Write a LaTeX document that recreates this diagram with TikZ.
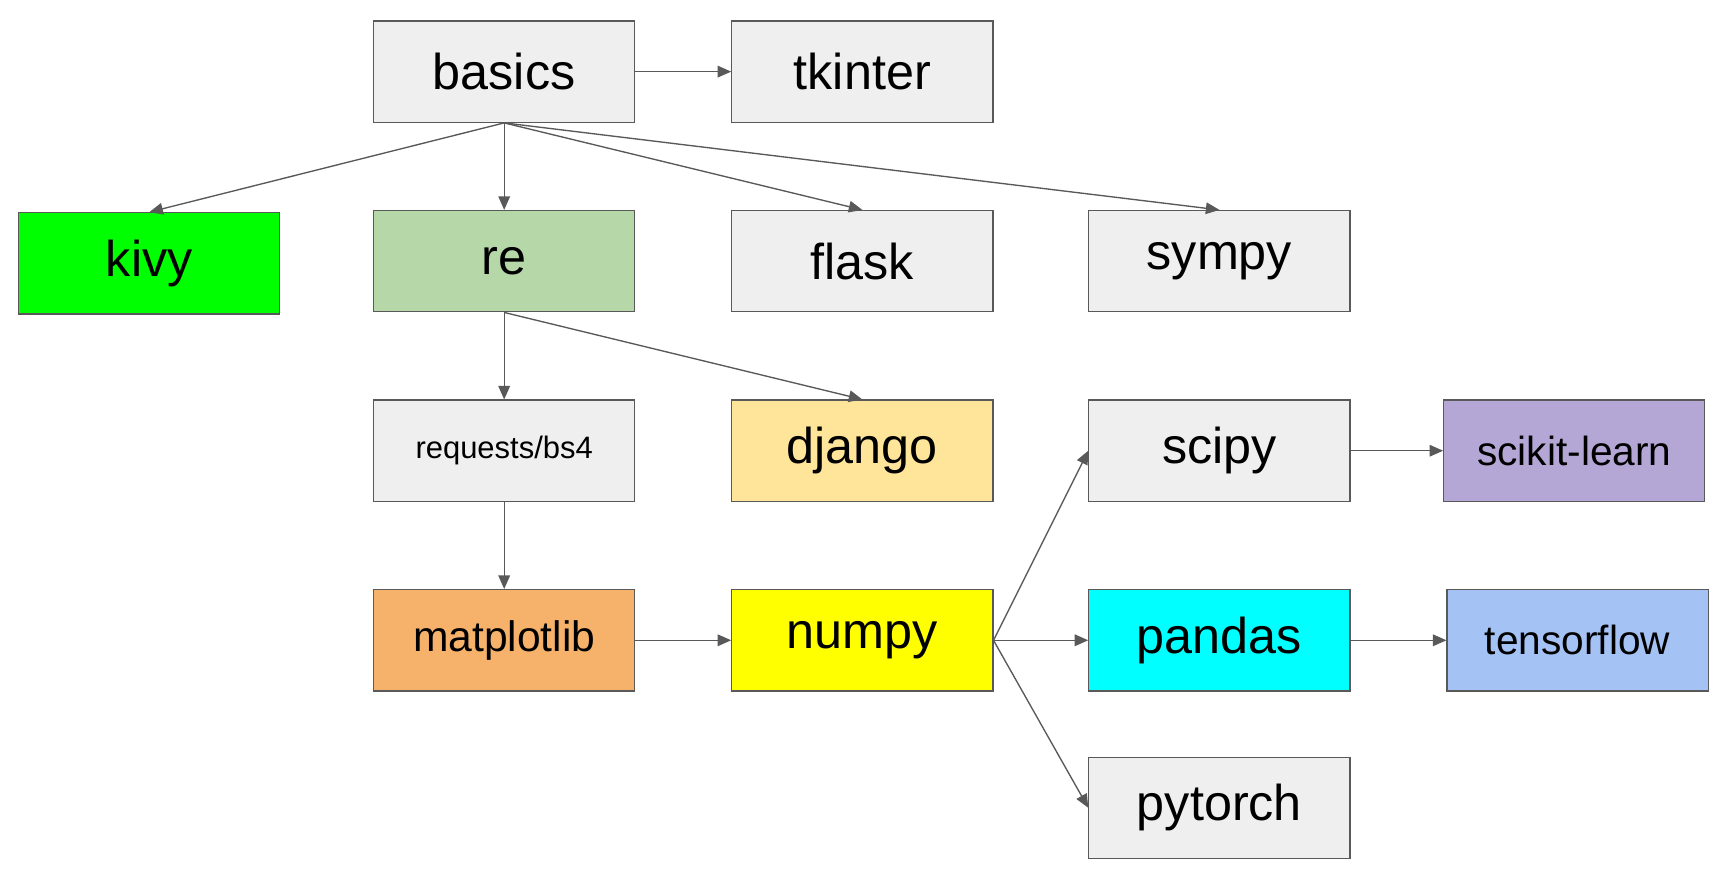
\documentclass[tikz,border=0pt]{standalone}
\usepackage{fontspec}
\setmainfont{Liberation Sans}
\usetikzlibrary{arrows.meta}
\definecolor{bd}{HTML}{595959}
\definecolor{gr}{HTML}{EFEFEF}
\begin{document}
\begin{tikzpicture}[x=0.02cm,y=-0.02cm,
 box/.style={draw=bd,line width=0.6pt,fill=gr,minimum width=4.74cm,minimum height=1.84cm,inner sep=0pt,font=\fontsize{26}{30}\selectfont},
 arr/.style={draw=bd,line width=0.7pt,-{Triangle[length=7pt,width=6pt]}}]
\useasboundingbox (0,0) rectangle (1568,803);
\node[box] (basics) at (457.5,65) {basics};
\node[box] (tkinter) at (782.5,65) {tkinter};
\node[box,fill={rgb,255:red,0;green,255;blue,0}] (kivy) at (135.5,239) {kivy};
\node[box,fill={rgb,255:red,182;green,215;blue,168}] (re) at (457.5,237) {re};
\node[box] (flask) at (782.5,237) {flask};
\node[box] (sympy) at (1106.5,237) {sympy};
\node[box,font=\fontsize{16}{20}\selectfont] (req) at (457.5,409) {requests/bs4};
\node[box,fill={rgb,255:red,255;green,229;blue,153}] (django) at (782.5,409) {django};
\node[box] (scipy) at (1106.5,409) {scipy};
\node[box,fill={rgb,255:red,180;green,167;blue,214},font=\fontsize{21}{25}\selectfont] (sk) at (1428.5,409) {scikit-learn};
\node[box,fill={rgb,255:red,246;green,178;blue,107},font=\fontsize{22}{26}\selectfont] (mpl) at (457.5,581) {matplotlib};
\node[box,fill={rgb,255:red,255;green,255;blue,0}] (numpy) at (782.5,581) {numpy};
\node[box,fill={rgb,255:red,0;green,255;blue,255}] (pandas) at (1106.5,581) {pandas};
\node[box,fill={rgb,255:red,164;green,194;blue,244},font=\fontsize{21}{25}\selectfont] (tf) at (1431.5,581) {tensorflow};
\node[box] (pytorch) at (1106.5,733) {pytorch};
\draw[arr] (basics.east) -- (tkinter.west);
\draw[arr] (basics.south) -- (kivy.north);
\draw[arr] (basics.south) -- (re.north);
\draw[arr] (basics.south) -- (flask.north);
\draw[arr] (basics.south) -- (sympy.north);
\draw[arr] (re.south) -- (req.north);
\draw[arr] (re.south) -- (django.north);
\draw[arr] (req.south) -- (mpl.north);
\draw[arr] (mpl.east) -- (numpy.west);
\draw[arr] (numpy.east) -- (scipy.west);
\draw[arr] (numpy.east) -- (pandas.west);
\draw[arr] (numpy.east) -- (pytorch.west);
\draw[arr] (scipy.east) -- (sk.west);
\draw[arr] (pandas.east) -- (tf.west);
\end{tikzpicture}
\end{document}
